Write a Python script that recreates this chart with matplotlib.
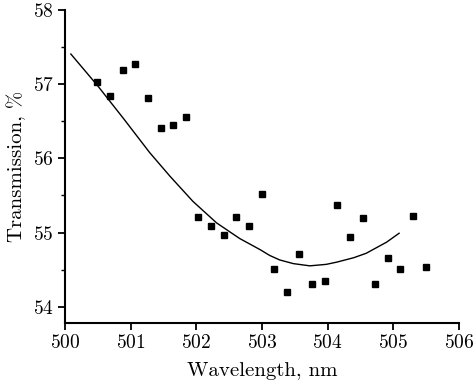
import matplotlib
matplotlib.use("Agg")
import matplotlib.pyplot as plt
from matplotlib.ticker import MultipleLocator

plt.rcParams['font.family'] = ['cmr10', 'DejaVu Serif']
plt.rcParams['axes.formatter.use_mathtext'] = True
plt.rcParams['mathtext.fontset'] = 'cm'

wl_points = [500.49, 500.68, 500.88, 501.07, 501.26, 501.46, 501.64, 501.84,
             502.03, 502.22, 502.42, 502.61, 502.80, 503.00, 503.19, 503.38,
             503.57, 503.76, 503.96, 504.14, 504.34, 504.54, 504.72, 504.92,
             505.11, 505.30, 505.50]
tr_points = [57.03, 56.85, 57.19, 57.28, 56.81, 56.41, 56.45, 56.56,
             55.21, 55.09, 54.96, 55.21, 55.09, 55.52, 54.51, 54.20,
             54.71, 54.31, 54.35, 55.37, 54.94, 55.20, 54.30, 54.65,
             54.51, 55.22, 54.53]

wl_curve = [500.09, 500.50, 500.90, 501.29, 501.60, 501.95, 502.31, 502.66,
            502.97, 503.12, 503.27, 503.48, 503.73, 503.98, 504.14, 504.40,
            504.59, 504.90, 505.09]
tr_curve = [57.41, 56.98, 56.53, 56.08, 55.76, 55.42, 55.13, 54.92,
            54.77, 54.69, 54.63, 54.58, 54.55, 54.57, 54.60, 54.66,
            54.72, 54.87, 54.99]

fig = plt.figure(figsize=(4.74, 3.83), dpi=100)
ax = fig.add_axes([0.137, 0.157, 0.831, 0.816])

ax.plot(wl_curve, tr_curve, color='black', lw=1.0)
ax.plot(wl_points, tr_points, linestyle='none', marker='s', ms=4.3,
        color='black')

ax.set_xlim(500, 506)
ax.set_ylim(53.78, 58)
ax.xaxis.set_major_locator(MultipleLocator(1))
ax.yaxis.set_major_locator(MultipleLocator(1))
ax.yaxis.set_minor_locator(MultipleLocator(0.5))

for s in ['top', 'right']:
    ax.spines[s].set_visible(False)
for s in ['left', 'bottom']:
    ax.spines[s].set_linewidth(1.5)

ax.tick_params(which='major', direction='out', length=5, width=1.3,
               labelsize=14, colors='black', pad=3)
ax.tick_params(which='minor', direction='out', length=3, width=1.0)

ax.set_xlabel('Wavelength, nm', fontsize=15, labelpad=7)
ax.set_ylabel('Transmission, %', fontsize=15, labelpad=5)

fig.savefig('out.png', dpi=100)
